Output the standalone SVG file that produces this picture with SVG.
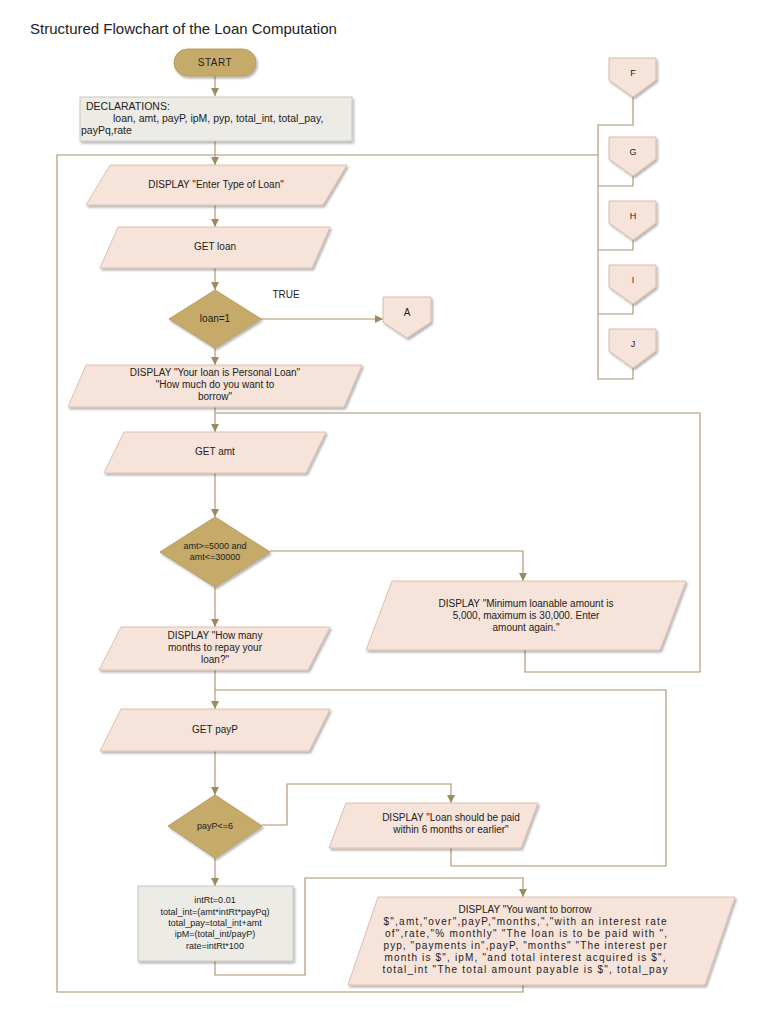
<svg xmlns="http://www.w3.org/2000/svg" width="768" height="1024" viewBox="0 0 768 1024">
<defs>
<style>
.t{font-family:"Liberation Sans",Arial,sans-serif;font-size:10px;fill:#222;text-anchor:middle}
.s{font-size:9px}
.tl{font-family:"Liberation Sans",Arial,sans-serif;font-size:10.5px;fill:#222}
.title{font-family:"Liberation Sans",Arial,sans-serif;font-size:15px;fill:#222}
.io{fill:#f6e3d9;stroke:#dcbfae;stroke-width:1}
.dec{fill:#c5aa6a;stroke:#b89d5e;stroke-width:1}
.proc{fill:#ecebe6;stroke:#c9c7bf;stroke-width:1}
.con{fill:#f6e3d9;stroke:#d9bca9;stroke-width:1}
.ln{fill:none;stroke:#a8926a;stroke-width:1.1}
</style>
<marker id="arr" viewBox="0 0 10 10" refX="10" refY="5" markerWidth="8" markerHeight="8" orient="auto" markerUnits="userSpaceOnUse">
<path d="M0,0 L10,5 L0,10 z" fill="#9c8a62"/>
</marker>
<filter id="sh" x="-10%" y="-10%" width="130%" height="140%">
<feDropShadow dx="1.5" dy="2" stdDeviation="1.2" flood-color="#000" flood-opacity="0.3"/>
</filter>
</defs>
<rect width="768" height="1024" fill="#fff"/>
<text class="title" x="30" y="34">Structured Flowchart of the Loan Computation</text>

<g id="connectors">
<path class="ln" d="M215,76 V96" marker-end="url(#arr)"/>
<path class="ln" d="M215,141 V165" marker-end="url(#arr)"/>
<path class="ln" d="M523,985 V992 H57 V155 H598"/>
<path class="ln" d="M633,97 V125 H598 V379 H633 V368"/>
<path class="ln" d="M633,176 V186 H598"/>
<path class="ln" d="M633,240 V250 H598"/>
<path class="ln" d="M633,304 V314 H598"/>
<path class="ln" d="M215,205 V227" marker-end="url(#arr)"/>
<path class="ln" d="M215,268 V290" marker-end="url(#arr)"/>
<path class="ln" d="M261,319 H383" marker-end="url(#arr)"/>
<path class="ln" d="M215,348 V365" marker-end="url(#arr)"/>
<path class="ln" d="M215,407 V432" marker-end="url(#arr)"/>
<path class="ln" d="M525,650 V672 H700 V413 H215"/>
<path class="ln" d="M215,473 V517" marker-end="url(#arr)"/>
<path class="ln" d="M270,551 H523 V581" marker-end="url(#arr)"/>
<path class="ln" d="M215,587 V627" marker-end="url(#arr)"/>
<path class="ln" d="M215,670 V709" marker-end="url(#arr)"/>
<path class="ln" d="M451,848 V866 H666 V690 H215"/>
<path class="ln" d="M215,751 V795" marker-end="url(#arr)"/>
<path class="ln" d="M262,825 H287 V784 H451 V803" marker-end="url(#arr)"/>
<path class="ln" d="M215,858 V886" marker-end="url(#arr)"/>
<path class="ln" d="M215,961 V975 H305 V878 H523 V897" marker-end="url(#arr)"/>
</g>

<g id="start">
<rect x="174" y="49" width="82" height="27" rx="13.5" class="dec" filter="url(#sh)"/>
<text class="t" x="215" y="66" style="letter-spacing:0.5px">START</text>
</g>

<g id="declarations">
<rect x="80" y="97" width="272" height="44" class="proc" filter="url(#sh)"/>
<text class="tl" x="86" y="110">DECLARATIONS:</text>
<text class="tl" x="113" y="122">loan, amt, payP, ipM, pyp, total_int, total_pay,</text>
<text class="tl" x="81" y="134">payPq,rate</text>
</g>

<g id="display-enter-type">
<polygon points="110,165 347,165 323,205 86,205" class="io" filter="url(#sh)"/>
<text class="t" x="216" y="188">DISPLAY "Enter Type of Loan"</text>
</g>

<g id="get-loan">
<polygon points="118,227 330,227 312,268 100,268" class="io" filter="url(#sh)"/>
<text class="t" x="215" y="250">GET loan</text>
</g>

<g id="dec-loan">
<polygon points="215,290 261,319 215,348 169,319" class="dec" filter="url(#sh)"/>
<text class="t" x="215" y="322">loan=1</text>
</g>
<text class="t" x="286" y="298">TRUE</text>

<g id="conn-a">
<polygon points="383,297 431,297 431,322 407,338 383,322" class="con" filter="url(#sh)"/>
<text class="t" x="407" y="316">A</text>
</g>

<g id="display-personal">
<polygon points="86,365 362,365 344,407 68,407" class="io" filter="url(#sh)"/>
<text class="t" x="215" y="376">DISPLAY "Your loan is Personal Loan"</text>
<text class="t" x="215" y="388">"How much do you want to</text>
<text class="t" x="215" y="400">borrow"</text>
</g>

<g id="get-amt">
<polygon points="124,432 326,432 306,473 104,473" class="io" filter="url(#sh)"/>
<text class="t" x="215" y="455">GET amt</text>
</g>

<g id="dec-amt">
<polygon points="215,517 270,552 215,587 160,552" class="dec" filter="url(#sh)"/>
<text class="t s" x="215" y="549">amt&gt;=5000 and</text>
<text class="t s" x="215" y="560">amt&lt;=30000</text>
</g>

<g id="display-minimum">
<polygon points="392,581 686,581 660,650 366,650" class="io" filter="url(#sh)"/>
<text class="t" x="526" y="607">DISPLAY "Minimum loanable amount is</text>
<text class="t" x="526" y="619">5,000, maximum is 30,000. Enter</text>
<text class="t" x="526" y="631">amount again."</text>
</g>

<g id="display-months">
<polygon points="121,627 330,627 308,670 99,670" class="io" filter="url(#sh)"/>
<text class="t" x="215" y="639">DISPLAY "How many</text>
<text class="t" x="215" y="651">months to repay your</text>
<text class="t" x="215" y="663">loan?"</text>
</g>

<g id="get-payp">
<polygon points="121,709 330,709 309,751 100,751" class="io" filter="url(#sh)"/>
<text class="t" x="215" y="733">GET payP</text>
</g>

<g id="dec-payp">
<polygon points="215,795 262,826 215,858 168,826" class="dec" filter="url(#sh)"/>
<text class="t s" x="215" y="829">payP&lt;=6</text>
</g>

<g id="display-paid">
<polygon points="346,803 538,803 521,848 329,848" class="io" filter="url(#sh)"/>
<text class="t" x="451" y="821">DISPLAY "Loan should be paid</text>
<text class="t" x="451" y="833">within 6 months or earlier"</text>
</g>

<g id="compute">
<rect x="138" y="886" width="155" height="75" class="proc" filter="url(#sh)"/>
<text class="t s" x="215" y="903">intRt=0.01</text>
<text class="t s" x="215" y="915">total_int=(amt*intRt*payPq)</text>
<text class="t s" x="215" y="926">total_pay=total_int+amt</text>
<text class="t s" x="215" y="937">ipM=(total_int/payP)</text>
<text class="t s" x="215" y="949">rate=intRt*100</text>
</g>

<g id="display-result">
<polygon points="378,897 735,897 705,985 348,985" class="io" filter="url(#sh)"/>
<text class="t" x="525" y="913">DISPLAY   "You want to borrow</text>
<text class="t" x="525" y="925" textLength="283" lengthAdjust="spacing">$",amt,"over",payP,"months,","with an interest rate</text>
<text class="t" x="526" y="937" textLength="282" lengthAdjust="spacing">of",rate,"% monthly" "The loan is to be paid with ",</text>
<text class="t" x="525" y="949" textLength="283" lengthAdjust="spacing">pyp, "payments in",payP, "months" "The interest per</text>
<text class="t" x="525" y="961" textLength="281" lengthAdjust="spacing">month is $", ipM, "and total interest acquired is $",</text>
<text class="t" x="525" y="973" textLength="285" lengthAdjust="spacing">total_int "The total amount payable is $", total_pay</text>
</g>

<g id="conn-f">
<polygon points="609,58 656,58 656,80 633,97 609,80" class="con" filter="url(#sh)"/>
<text class="t s" x="633" y="76">F</text>
</g>
<g id="conn-g">
<polygon points="609,137 656,137 656,159 633,176 609,159" class="con" filter="url(#sh)"/>
<text class="t s" x="633" y="155">G</text>
</g>
<g id="conn-h">
<polygon points="609,201 656,201 656,223 633,240 609,223" class="con" filter="url(#sh)"/>
<text class="t s" x="633" y="219">H</text>
</g>
<g id="conn-i">
<polygon points="609,265 656,265 656,287 633,304 609,287" class="con" filter="url(#sh)"/>
<text class="t s" x="633" y="283">I</text>
</g>
<g id="conn-j">
<polygon points="609,329 656,329 656,351 633,368 609,351" class="con" filter="url(#sh)"/>
<text class="t s" x="633" y="347">J</text>
</g>
</svg>
